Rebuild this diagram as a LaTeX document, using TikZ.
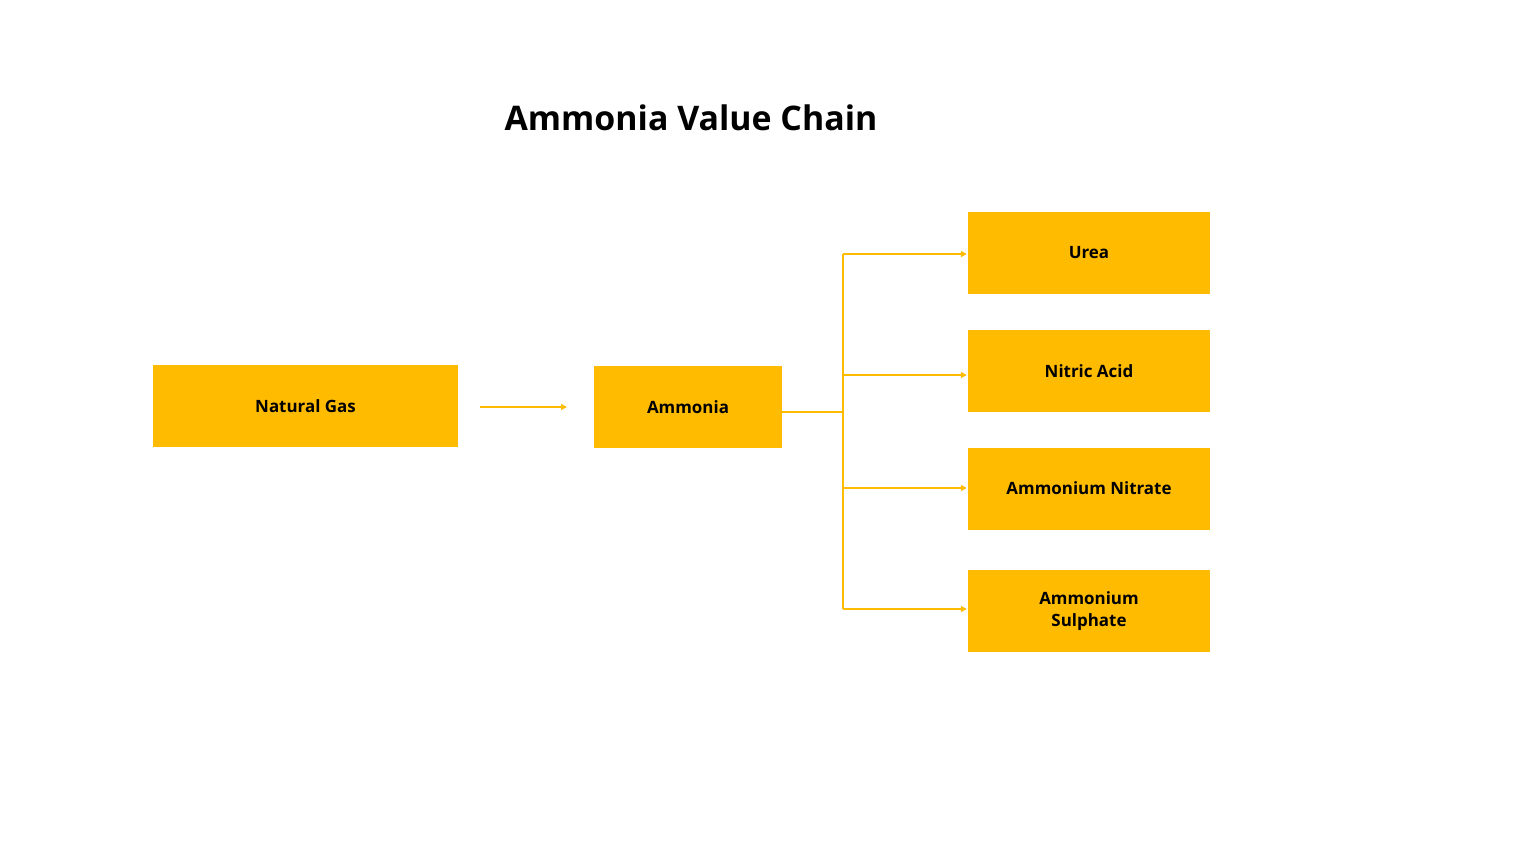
\documentclass[tikz,border=0pt]{standalone}
\usepackage{fontspec}
\setmainfont{Open Sans}
\usetikzlibrary{arrows.meta}
\definecolor{amber}{HTML}{FFBB00}
\begin{document}
\begin{tikzpicture}[x=1bp,y=-1bp,
  box/.style={fill=amber,draw=none,inner sep=0pt,font=\fontsize{17}{22}\selectfont\bfseries,align=center},
  link/.style={draw=amber,line width=1.5bp,-{Triangle[length=6bp,width=6bp]}},
  bus/.style={draw=amber,line width=1.5bp}]
\useasboundingbox (0,0) rectangle (1536,864);
\node[font=\fontsize{34}{40}\selectfont\bfseries] (title) at (691,118) {Ammonia Value Chain};
\node[box,minimum width=305bp,minimum height=82bp] (ng) at (305.5,406) {Natural Gas};
\node[box,minimum width=188bp,minimum height=82bp] (am) at (688,407) {Ammonia};
\node[box,minimum width=242bp,minimum height=82bp] (u) at (1089,253) {Urea};
\node[box,minimum width=242bp,minimum height=82bp] (na) at (1089,371) {Nitric Acid};
\node[box,minimum width=242bp,minimum height=82bp] (an) at (1089,488.5) {Ammonium Nitrate};
\node[box,minimum width=242bp,minimum height=82bp] (as) at (1089,611) {Ammonium\\Sulphate};
\coordinate (a1) at (480,407);
\coordinate (a2) at (567,407);
\draw[link,line width=2.5bp] (a1) -- (a2);
\coordinate (j) at (843,412);
\coordinate (top) at (843,254);
\coordinate (bot) at (843,609);
\coordinate (j2) at (843,375);
\coordinate (j3) at (843,488);
\draw[bus] (am.east |- j) -- (j);
\draw[bus] (top) -- (bot);
\draw[link] (top) -- ([xshift=-1bp]u.west |- top);
\draw[link] (j2) -- ([xshift=-1bp]na.west |- j2);
\draw[link] (j3) -- ([xshift=-1bp]an.west |- j3);
\draw[link] (bot) -- ([xshift=-1bp]as.west |- bot);
\end{tikzpicture}
\end{document}
